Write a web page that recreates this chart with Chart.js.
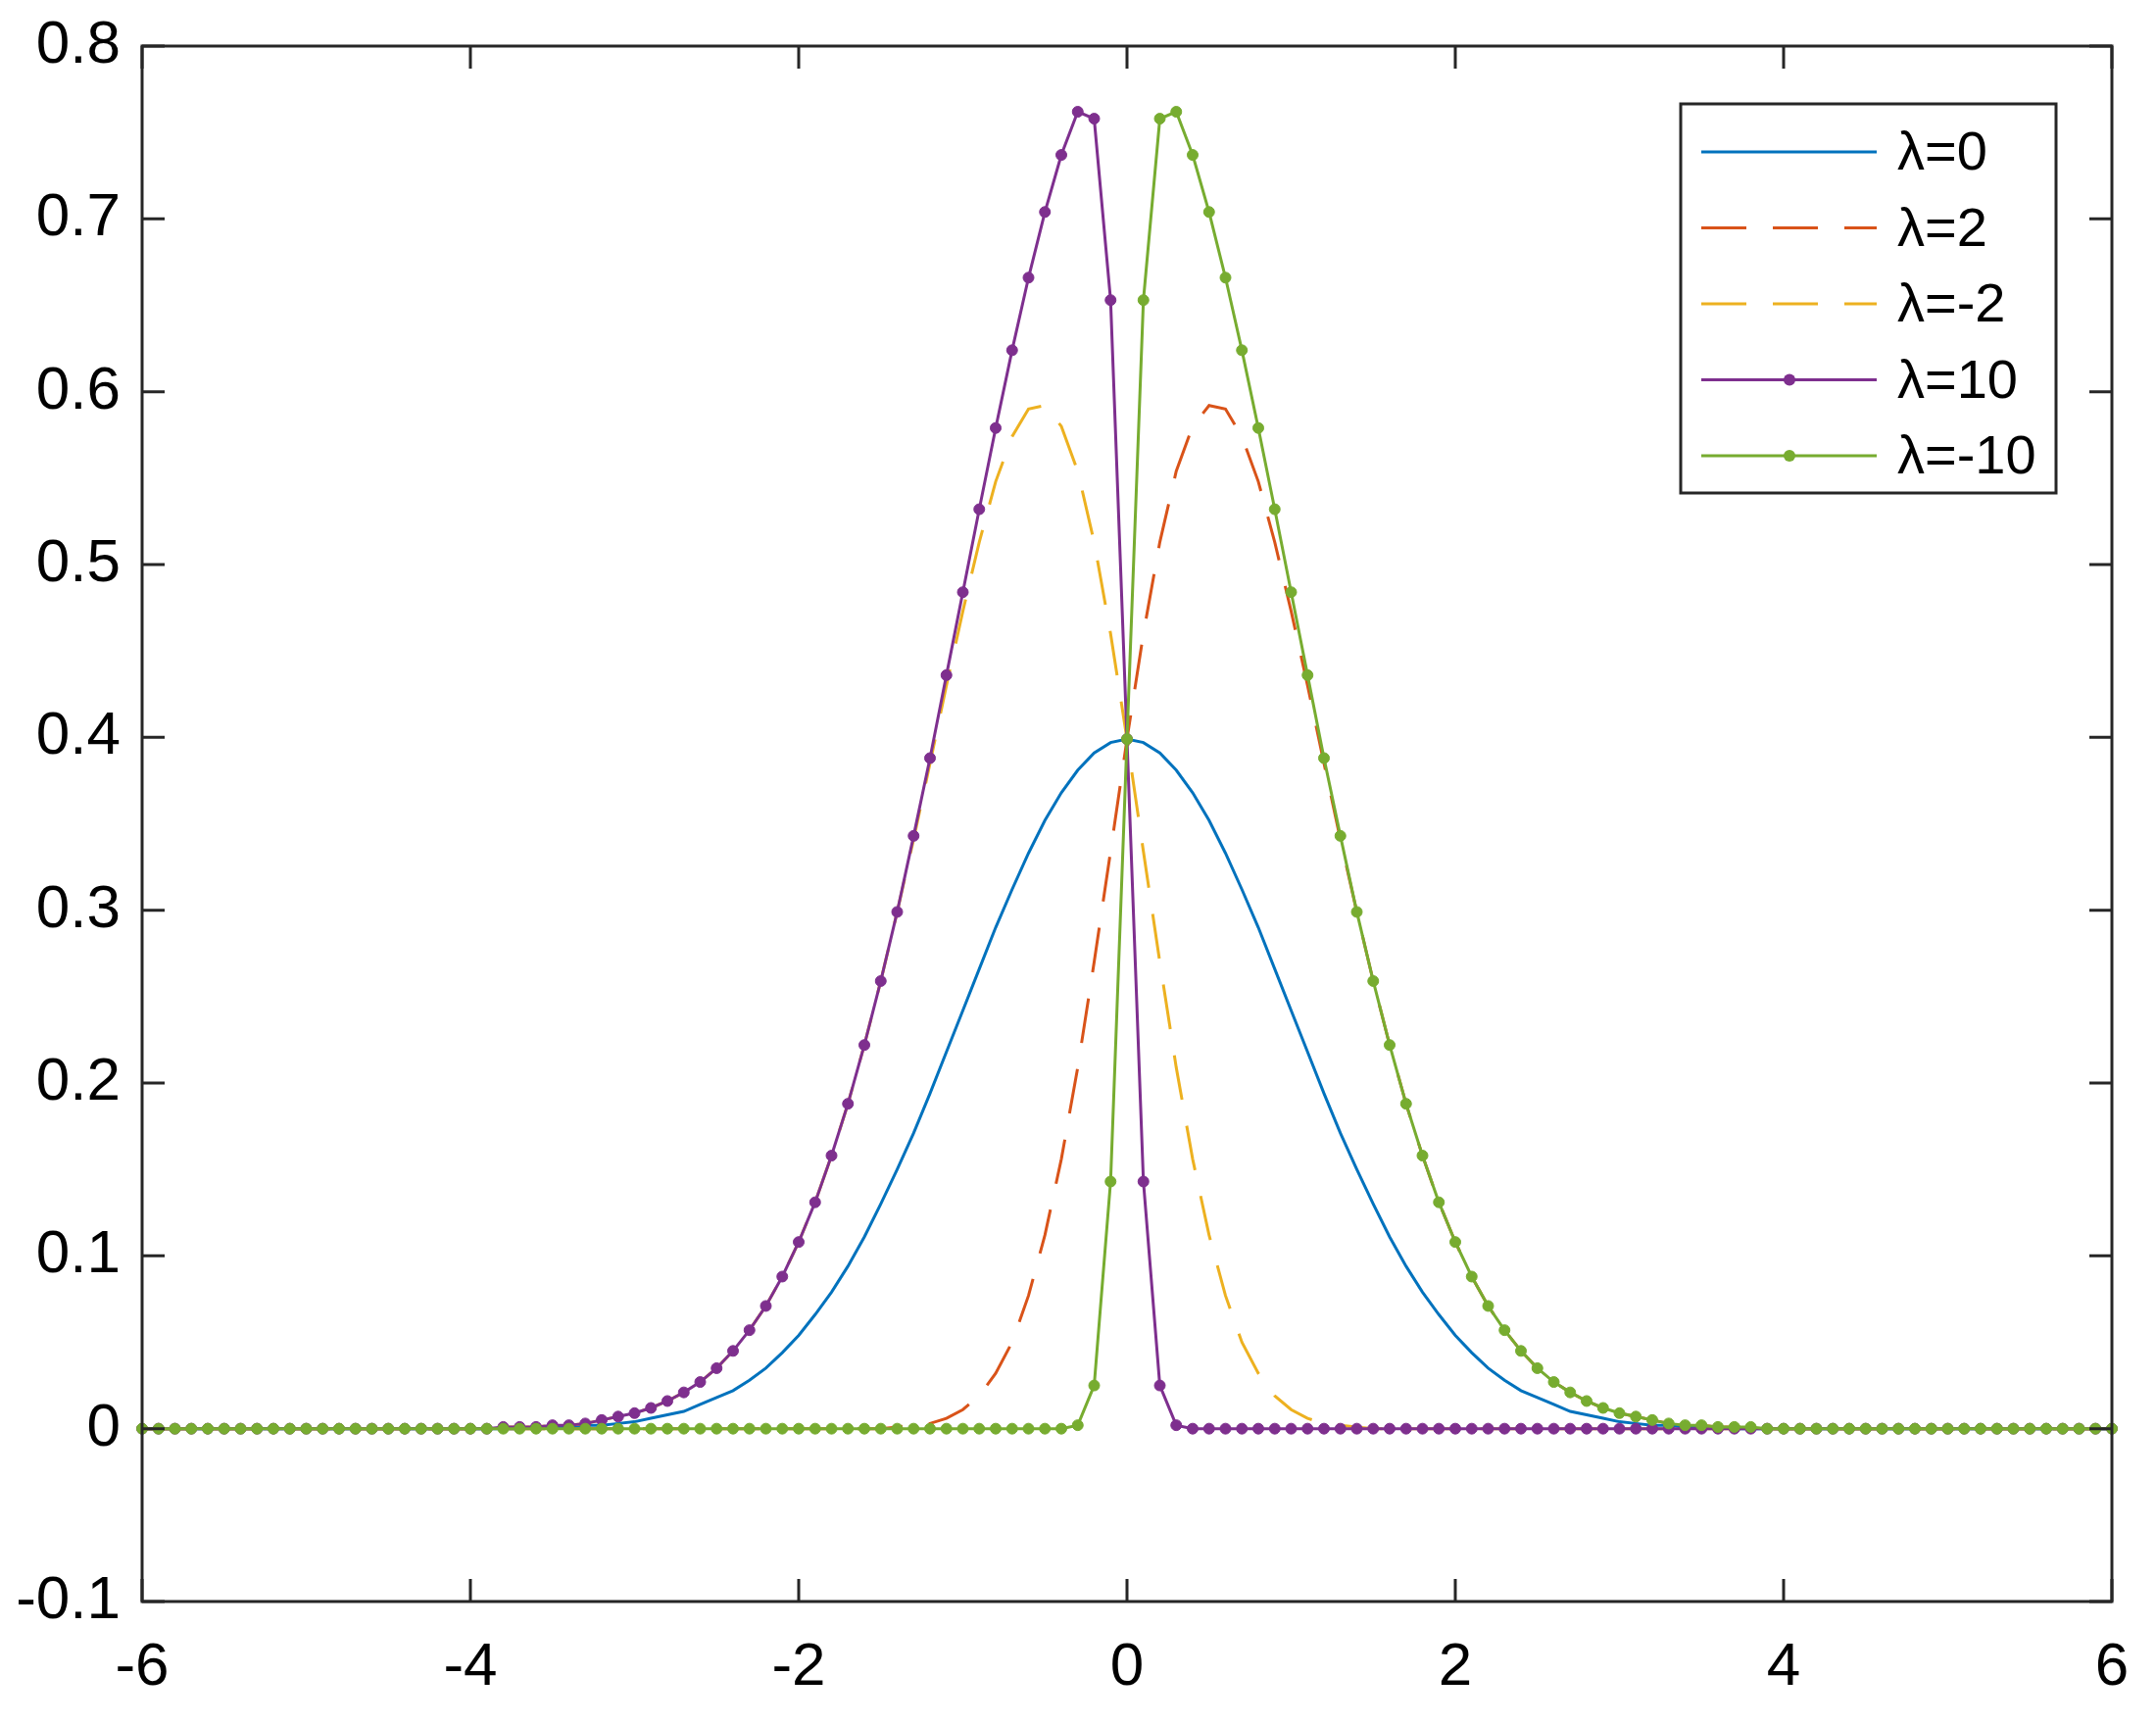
<!DOCTYPE html>
<html>
<head>
<meta charset="utf-8">
<style>
html,body{margin:0;padding:0;background:#fff;}
canvas{display:block;}
</style>
<script src="https://cdn.jsdelivr.net/npm/chart.js@4.4.1/dist/chart.umd.min.js"></script>
</head>
<body>
<canvas id="c" width="2200" height="1760" style="width:2200px;height:1760px"></canvas>
<script>
// x grid (-6 .. 6, step 0.1)
const xValues = [-6,-5.9,-5.8,-5.7,-5.6,-5.5,-5.4,-5.3,-5.2,-5.1,-5,-4.9,-4.8,-4.7,-4.6,-4.5,-4.4,-4.3,-4.2,-4.1,
-4,-3.9,-3.8,-3.7,-3.6,-3.5,-3.4,-3.3,-3.2,-3.1,-3,-2.9,-2.8,-2.7,-2.6,-2.5,-2.4,-2.3,-2.2,-2.1,
-2,-1.9,-1.8,-1.7,-1.6,-1.5,-1.4,-1.3,-1.2,-1.1,-1,-0.9,-0.8,-0.7,-0.6,-0.5,-0.4,-0.3,-0.2,-0.1,
0,0.1,0.2,0.3,0.4,0.5,0.6,0.7,0.8,0.9,1,1.1,1.2,1.3,1.4,1.5,1.6,1.7,1.8,1.9,
2,2.1,2.2,2.3,2.4,2.5,2.6,2.7,2.8,2.9,3,3.1,3.2,3.3,3.4,3.5,3.6,3.7,3.8,3.9,
4,4.1,4.2,4.3,4.4,4.5,4.6,4.7,4.8,4.9,5,5.1,5.2,5.3,5.4,5.5,5.6,5.7,5.8,5.9,6];

const seriesLabels = ['λ=0','λ=2','λ=-2','λ=10','λ=-10'];

const lam0 = [0,0,0,0,0,0,0,0,0,0,0,0,0,0,0,0,0,0,0,0,0,0,0,0,
0.001,0.001,0.001,0.002,0.002,0.003,0.004,0.006,0.008,0.010,0.014,0.018,0.022,0.028,0.035,0.044,
0.054,0.066,0.079,0.094,0.111,0.130,0.150,0.171,0.194,0.218,0.242,0.266,0.290,0.312,0.333,0.352,0.368,0.381,0.391,0.397,
0.399,
0.397,0.391,0.381,0.368,0.352,0.333,0.312,0.290,0.266,0.242,0.218,0.194,0.171,0.150,0.130,0.111,0.094,0.079,0.066,0.054,
0.044,0.035,0.028,0.022,0.018,0.014,0.010,0.008,0.006,0.004,0.003,0.002,0.002,0.001,0.001,0.001,
0,0,0,0,0,0,0,0,0,0,0,0,0,0,0,0,0,0,0,0,0,0,0,0];

const lam2 = [0,0,0,0,0,0,0,0,0,0,0,0,0,0,0,0,0,0,0,0,0,0,0,0,0,0,0,0,0,0,0,0,0,0,0,0,0,0,0,0,0,0,0,0,0,0,
0.001,0.002,0.003,0.006,0.011,0.019,0.032,0.050,0.077,0.112,0.156,0.209,0.270,0.334,
0.399,
0.460,0.513,0.554,0.580,0.592,0.590,0.574,0.548,0.513,0.473,0.430,0.385,0.341,0.299,0.259,0.222,0.188,0.158,0.131,
0.108,0.088,0.071,0.057,0.045,0.035,0.027,0.021,0.016,0.012,0.009,0.007,0.005,0.003,0.002,0.002,0.001,0.001,0.001,
0,0,0,0,0,0,0,0,0,0,0,0,0,0,0,0,0,0,0,0,0,0];

const lamNeg2 = [0,0,0,0,0,0,0,0,0,0,0,0,0,0,0,0,0,0,0,0,0,0,
0.001,0.001,0.001,0.002,0.002,0.003,0.005,0.007,0.009,0.012,0.016,0.021,0.027,0.035,0.045,0.057,0.071,0.088,0.108,
0.131,0.158,0.188,0.222,0.259,0.299,0.341,0.385,0.430,0.473,0.513,0.548,0.574,0.590,0.592,0.580,0.554,0.513,0.460,
0.399,
0.334,0.270,0.209,0.156,0.112,0.077,0.050,0.032,0.019,0.011,0.006,0.003,0.002,0.001,
0,0,0,0,0,0,0,0,0,0,0,0,0,0,0,0,0,0,0,0,0,0,0,0,0,0,0,0,0,0,0,0,0,0,0,0,0,0,0,0,0,0,0,0,0,0];

const lam10 = [0,0,0,0,0,0,0,0,0,0,0,0,0,0,0,0,0,0,0,0,0,0,
0.001,0.001,0.001,0.002,0.002,0.003,0.005,0.007,0.009,0.012,0.016,0.021,0.027,0.035,0.045,0.057,0.071,0.088,0.108,
0.131,0.158,0.188,0.222,0.259,0.299,0.343,0.388,0.436,0.484,0.532,0.579,0.624,0.666,0.704,0.737,0.762,0.758,0.653,
0.399,
0.143,0.025,0.002,
0,0,0,0,0,0,0,0,0,0,0,0,0,0,0,0,0,0,0,0,0,0,0,0,0,0,0,0,0,0,0,0,0,0,0,0,0,0,0,0,0,0,0,0,0,0,0,0,0,0,0,0,0,0,0,0,0];

const lamNeg10 = [0,0,0,0,0,0,0,0,0,0,0,0,0,0,0,0,0,0,0,0,0,0,0,0,0,0,0,0,0,0,0,0,0,0,0,0,0,0,0,0,0,0,0,0,0,0,0,0,0,0,0,0,0,0,0,0,0,
0.002,0.025,0.143,
0.399,
0.653,0.758,0.762,0.737,0.704,0.666,0.624,0.579,0.532,0.484,0.436,0.388,0.343,0.299,0.259,0.222,0.188,0.158,0.131,
0.108,0.088,0.071,0.057,0.045,0.035,0.027,0.021,0.016,0.012,0.009,0.007,0.005,0.003,0.002,0.002,0.001,0.001,0.001,
0,0,0,0,0,0,0,0,0,0,0,0,0,0,0,0,0,0,0,0,0,0];

const xTicks = [-6,-4,-2,0,2,4,6];
const yTicks = [-0.1,0,0.1,0.2,0.3,0.4,0.5,0.6,0.7,0.8];

const colors = ['#0072BD','#D95319','#EDB120','#7E2F8E','#77AC30'];
const FONT = '"Liberation Sans", Arial, sans-serif';
const AX = '#262626';

function pts(ys){ return xValues.map((x,i)=>({x:x,y:ys[i]})); }

const seriesData = [lam0, lam2, lamNeg2, lam10, lamNeg10];
const dashes = [[],[46,27],[46,27],[],[]];
const markers = [false,false,false,true,true];

const datasets = seriesData.map((ys,i)=>({
  label: seriesLabels[i],
  data: pts(ys),
  borderColor: colors[i],
  backgroundColor: colors[i],
  borderWidth: 3,
  borderDash: dashes[i],
  pointRadius: markers[i] ? 5.5 : 0,
  pointStyle: 'circle',
  pointBorderWidth: 1,
  pointBorderColor: colors[i],
  pointBackgroundColor: colors[i],
  tension: 0,
  fill: false,
  clip: false,
  order: 4 - i
}));

const framePlugin = {
  id: 'frame',
  afterDatasetsDraw(chart){
    const ctx = chart.ctx, a = chart.chartArea;
    const xs = chart.scales.x, ys = chart.scales.y;
    ctx.save();
    ctx.strokeStyle = AX;
    ctx.lineWidth = 3;
    ctx.setLineDash([]);
    ctx.strokeRect(a.left, a.top, a.right - a.left, a.bottom - a.top);
    const tl = 23;
    ctx.beginPath();
    xTicks.forEach(v=>{
      const px = xs.getPixelForValue(v);
      ctx.moveTo(px, a.bottom); ctx.lineTo(px, a.bottom - tl);
      ctx.moveTo(px, a.top); ctx.lineTo(px, a.top + tl);
    });
    yTicks.forEach(v=>{
      const py = ys.getPixelForValue(v);
      ctx.moveTo(a.left, py); ctx.lineTo(a.left + tl, py);
      ctx.moveTo(a.right, py); ctx.lineTo(a.right - tl, py);
    });
    ctx.stroke();
    ctx.restore();
  },
  afterDraw(chart){
    const ctx = chart.ctx;
    const bx = 1715, by = 106, bw = 383, bh = 397;
    ctx.save();
    ctx.fillStyle = '#fff';
    ctx.fillRect(bx, by, bw, bh);
    ctx.strokeStyle = AX;
    ctx.lineWidth = 3;
    ctx.strokeRect(bx, by, bw, bh);
    chart.data.datasets.forEach((ds,i)=>{
      const y = 155 + i*77.5;
      ctx.strokeStyle = ds.borderColor;
      ctx.lineWidth = 3;
      ctx.setLineDash(ds.borderDash || []);
      ctx.beginPath();
      ctx.moveTo(1736, y); ctx.lineTo(1915, y);
      ctx.stroke();
      ctx.setLineDash([]);
      if (ds.pointRadius > 0) {
        ctx.fillStyle = ds.borderColor;
        ctx.beginPath();
        ctx.arc(1826, y, 6, 0, Math.PI*2);
        ctx.fill();
      }
      ctx.fillStyle = '#000';
      ctx.font = '56px ' + FONT;
      ctx.textAlign = 'left';
      ctx.textBaseline = 'middle';
      ctx.fillText(ds.label, 1936, y + 3);
    });
    ctx.restore();
  }
};

new Chart(document.getElementById('c'), {
  type: 'line',
  data: { datasets },
  options: {
    responsive: false,
    devicePixelRatio: 1,
    animation: false,
    layout: { padding: { top: 47, right: 45, left: 0, bottom: 0 } },
    plugins: { legend: { display: false }, tooltip: { enabled: false } },
    scales: {
      x: {
        type: 'linear', min: -6, max: 6,
        grid: { display: false, drawTicks: false },
        border: { display: false },
        afterBuildTicks(s){ s.ticks = xTicks.map(v=>({value:v})); },
        afterFit(s){ s.height = 126; s.paddingLeft = 0; s.paddingRight = 0; },
        ticks: {
          padding: 31, color: '#000', maxRotation: 0, autoSkip: false,
          font: { size: 62, family: FONT },
          callback: v => String(v)
        }
      },
      y: {
        type: 'linear', min: -0.1, max: 0.8,
        grid: { display: false, drawTicks: false },
        border: { display: false },
        afterBuildTicks(s){ s.ticks = yTicks.map(v=>({value:v})); },
        afterFit(s){ s.width = 145; s.paddingTop = 0; s.paddingBottom = 0; },
        ticks: {
          padding: 22, color: '#000', autoSkip: false,
          font: { size: 62, family: FONT },
          callback: v => String(Number(v.toFixed(1)))
        }
      }
    }
  },
  plugins: [framePlugin]
});
</script>
</body>
</html>
